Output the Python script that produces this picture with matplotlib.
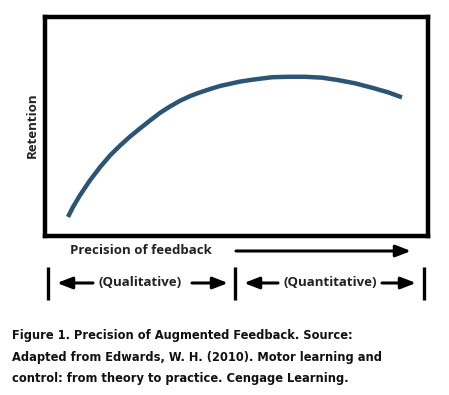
import matplotlib.pyplot as plt

# Precision of feedback (0-100) vs retention (0-100)
precision = [6.0, 7.3, 9.1, 11.7, 14.4, 17.0, 19.6, 22.2, 24.8, 27.4, 30.0,
             32.6, 35.2, 37.9, 40.5, 43.1, 45.7, 48.3, 50.9, 53.5, 55.6,
             59.3, 63.4, 67.9, 72.3, 76.5, 81.0, 85.4, 89.6, 93.2]
retention = [8.7, 13.2, 18.5, 25.3, 31.5, 36.8, 41.3, 45.4, 49.1, 52.7, 56.2,
             59.1, 61.7, 63.9, 65.6, 67.1, 68.5, 69.5, 70.5, 71.2, 71.7,
             72.5, 72.7, 72.7, 72.3, 71.2, 69.7, 67.7, 65.6, 63.3]

x_label = "Precision of feedback"
y_label = "Retention"
band_labels = ["(Qualitative)", "(Quantitative)"]
caption = ("Figure 1. Precision of Augmented Feedback. Source:\n"
           "Adapted from Edwards, W. H. (2010). Motor learning and\n"
           "control: from theory to practice. Cengage Learning.")

W, H = 449, 395
fig = plt.figure(figsize=(W / 100, H / 100), dpi=100)

# overlay in pixel coords for the annotations under the frame
ov = fig.add_axes([0, 0, 1, 1])
ov.set_xlim(0, W)
ov.set_ylim(H, 0)
ov.axis("off")

# main frame
ax = fig.add_axes([45 / W, 1 - 236 / H, 383 / W, 219 / H])
ax.plot(precision, retention, color="#2c5575", lw=3.2,
        solid_capstyle="butt", solid_joinstyle="round")
ax.set_xlim(0, 100)
ax.set_ylim(0, 100)
ax.set_xticks([])
ax.set_yticks([])
for s in ax.spines.values():
    s.set_linewidth(3.2)
    s.set_color("black")

lab_font = dict(family="Open Sans", weight="bold", color="#222222")
ov.text(32, 125, y_label, rotation=90, ha="center", va="center", fontsize=9.5, **lab_font)
ov.text(70, 251, x_label, ha="left", va="center", fontsize=9.5, **lab_font)

arrow = dict(arrowstyle="-|>,head_length=0.9,head_width=0.35", lw=2.2,
             color="black", shrinkA=0, shrinkB=0, mutation_scale=10)
ov.annotate("", xy=(411, 251), xytext=(236, 251), arrowprops=arrow)

# bracket row
for bx in [48, 235, 424]:
    ov.plot([bx, bx], [267, 300], color="black", lw=2.4, solid_capstyle="butt")

row_y = 283
ov.annotate("", xy=(57, row_y), xytext=(93, row_y), arrowprops=arrow)
ov.annotate("", xy=(228, row_y), xytext=(192, row_y), arrowprops=arrow)
ov.annotate("", xy=(244, row_y), xytext=(278, row_y), arrowprops=arrow)
ov.annotate("", xy=(416, row_y), xytext=(382, row_y), arrowprops=arrow)
ov.text(140.5, row_y, band_labels[0], ha="center", va="center", fontsize=9.5, **lab_font)
ov.text(330, row_y, band_labels[1], ha="center", va="center", fontsize=9.5, **lab_font)

ov.text(12, 329, caption, ha="left", va="top", fontsize=9.2,
        family="DejaVu Sans", stretch="condensed", weight="bold",
        color="#111111", linespacing=1.85)

fig.savefig("out.png", dpi=100)
